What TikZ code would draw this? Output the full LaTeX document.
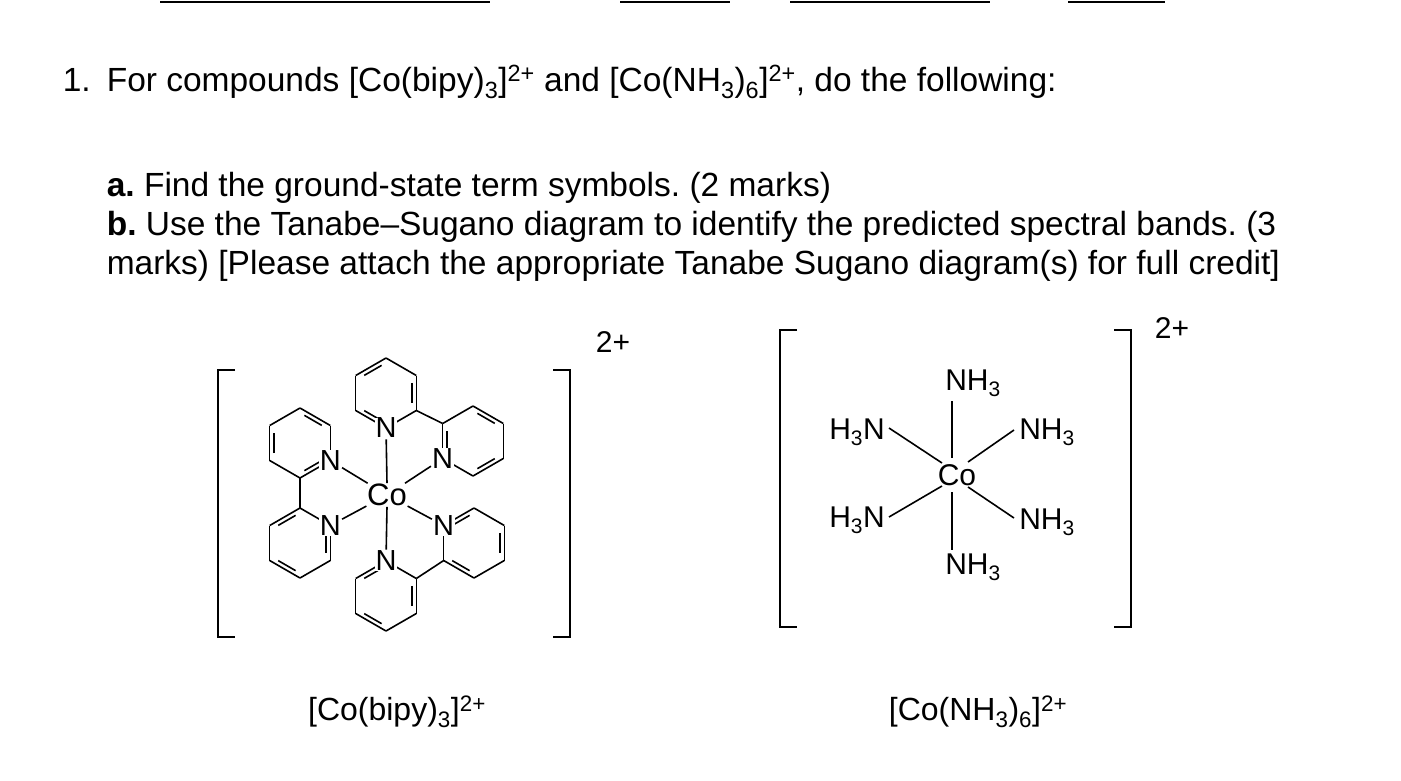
\documentclass[tikz,border=0pt]{standalone}
\usepackage{fontspec}
\setmainfont{Liberation Sans}
\frenchspacing
\begin{document}
\begin{tikzpicture}[x=1pt,y=-1pt,line width=1.6pt,
  txt/.style={anchor=base west,font=\fontsize{33.5}{38}\selectfont,inner sep=0},
  atom/.style={font=\fontsize{29}{30}\selectfont,fill=white,inner sep=0.5pt},
  lig/.style={font=\fontsize{30}{32}\selectfont,inner sep=1.5pt},
  lbl/.style={font=\fontsize{32}{34}\selectfont,inner sep=0}]
\useasboundingbox (0,0) rectangle (1401,780);
% top answer lines
\draw[line width=1.4pt] (160,2) -- (490,2);
\draw[line width=1.4pt] (620,2) -- (730,2);
\draw[line width=1.4pt] (790,2) -- (990,2);
\draw[line width=1.4pt] (1068,2) -- (1165,2);
% text
\node[txt] (t0) at (62,91) {1.};
\node[txt] (t1) at (106,91) {For compounds [Co(bipy)\textsubscript{3}]\textsuperscript{2+} and [Co(NH\textsubscript{3})\textsubscript{6}]\textsuperscript{2+}, do the following:};
\node[txt] (ta) at (106,196) {\textbf{a.} Find the ground-state term symbols. (2 marks)};
\node[txt] (tb) at (106,235) {\textbf{b.} Use the Tanabe–Sugano diagram to identify the predicted spectral bands. (3};
\node[txt] (tc) at (106,274) {marks) [Please attach the appropriate Tanabe Sugano diagram(s) for full credit]};
% ring macro
\newcommand\hexring[3]{%
  \foreach \a in {90,30,-30,-90,-150,-210}{
    \draw ({#1+35*cos(\a)},{#2-35*sin(\a)}) -- ({#1+35*cos(\a-60)},{#2-35*sin(\a-60)});}
  \foreach \a in {#3,#3-120,#3-240}{
    \draw ({#1+28*cos(\a-9)},{#2-28*sin(\a-9)}) -- ({#1+28*cos(\a-51)},{#2-28*sin(\a-51)});}
}
\hexring{386}{393}{-90}
\hexring{473}{441}{90}
\hexring{300}{443}{-30}
\hexring{300}{543}{30}
\hexring{474}{543}{150}
\hexring{386}{596}{150}
% inter-ring bonds
\draw ({386+35*cos(-30)},{393+17.5}) -- ({473+35*cos(150)},{441-17.5});
\draw (300,478) -- (300,508);
\draw ({474+35*cos(-150)},{543+17.5}) -- ({386+35*cos(30)},{596-17.5});
% N atoms
\node[atom] (n1) at (386,428) {N};
\node[atom] (n2) at ({473+35*cos(-150)},{441+17.5}) {N};
\node[atom] (n3) at ({300+35*cos(-30)},{443+17.5}) {N};
\node[atom] (n4) at ({300+35*cos(30)},{543-17.5}) {N};
\node[atom] (n5) at ({474+35*cos(150)},{543-17.5}) {N};
\node[atom] (n6) at (386,561) {N};
\node[atom,inner sep=0pt,font=\fontsize{31}{32}\selectfont] (co) at (387,495) {Co};
\draw (co.north) -- (n1);
\draw (co.south) -- (n6);
\foreach \n in {n2,n3,n4,n5} \draw (co) -- (\n);
% brackets bipy
\draw (235,370) -- (218,370) -- (218,637) -- (235,637);
\draw (553,370) -- (570,370) -- (570,637) -- (553,637);
\node[lbl,font=\fontsize{30}{32}\selectfont] (c1) at (613,342) {2+};
\node[lbl] (l1) at (397,712) {[Co(bipy)\textsubscript{3}]\textsuperscript{2+}};
% ammine complex
\node[lig] (co2) at (957,475) {Co};
\node[lig] (a1) at (973,383) {NH\textsubscript{3}};
\node[lig] (a2) at (857,432) {H\textsubscript{3}N};
\node[lig] (a3) at (1047,432) {NH\textsubscript{3}};
\node[lig] (a4) at (857,520) {H\textsubscript{3}N};
\node[lig] (a5) at (1047,522) {NH\textsubscript{3}};
\node[lig] (a6) at (973,567) {NH\textsubscript{3}};
\draw (952,401) -- (952,458);
\draw (952,492) -- (952,550);
\draw (889,428) -- (942,463);
\draw (1014,430) -- (968,462);
\draw (889,517) -- (942,486);
\draw (1014,518) -- (968,487);
\draw (797,330) -- (780,330) -- (780,627) -- (797,627);
\draw (1114,330) -- (1131,330) -- (1131,627) -- (1114,627);
\node[lbl,font=\fontsize{30}{32}\selectfont] (c2) at (1172,328) {2+};
\node[lbl] (l2) at (978,712) {[Co(NH\textsubscript{3})\textsubscript{6}]\textsuperscript{2+}};
\end{tikzpicture}
\end{document}
